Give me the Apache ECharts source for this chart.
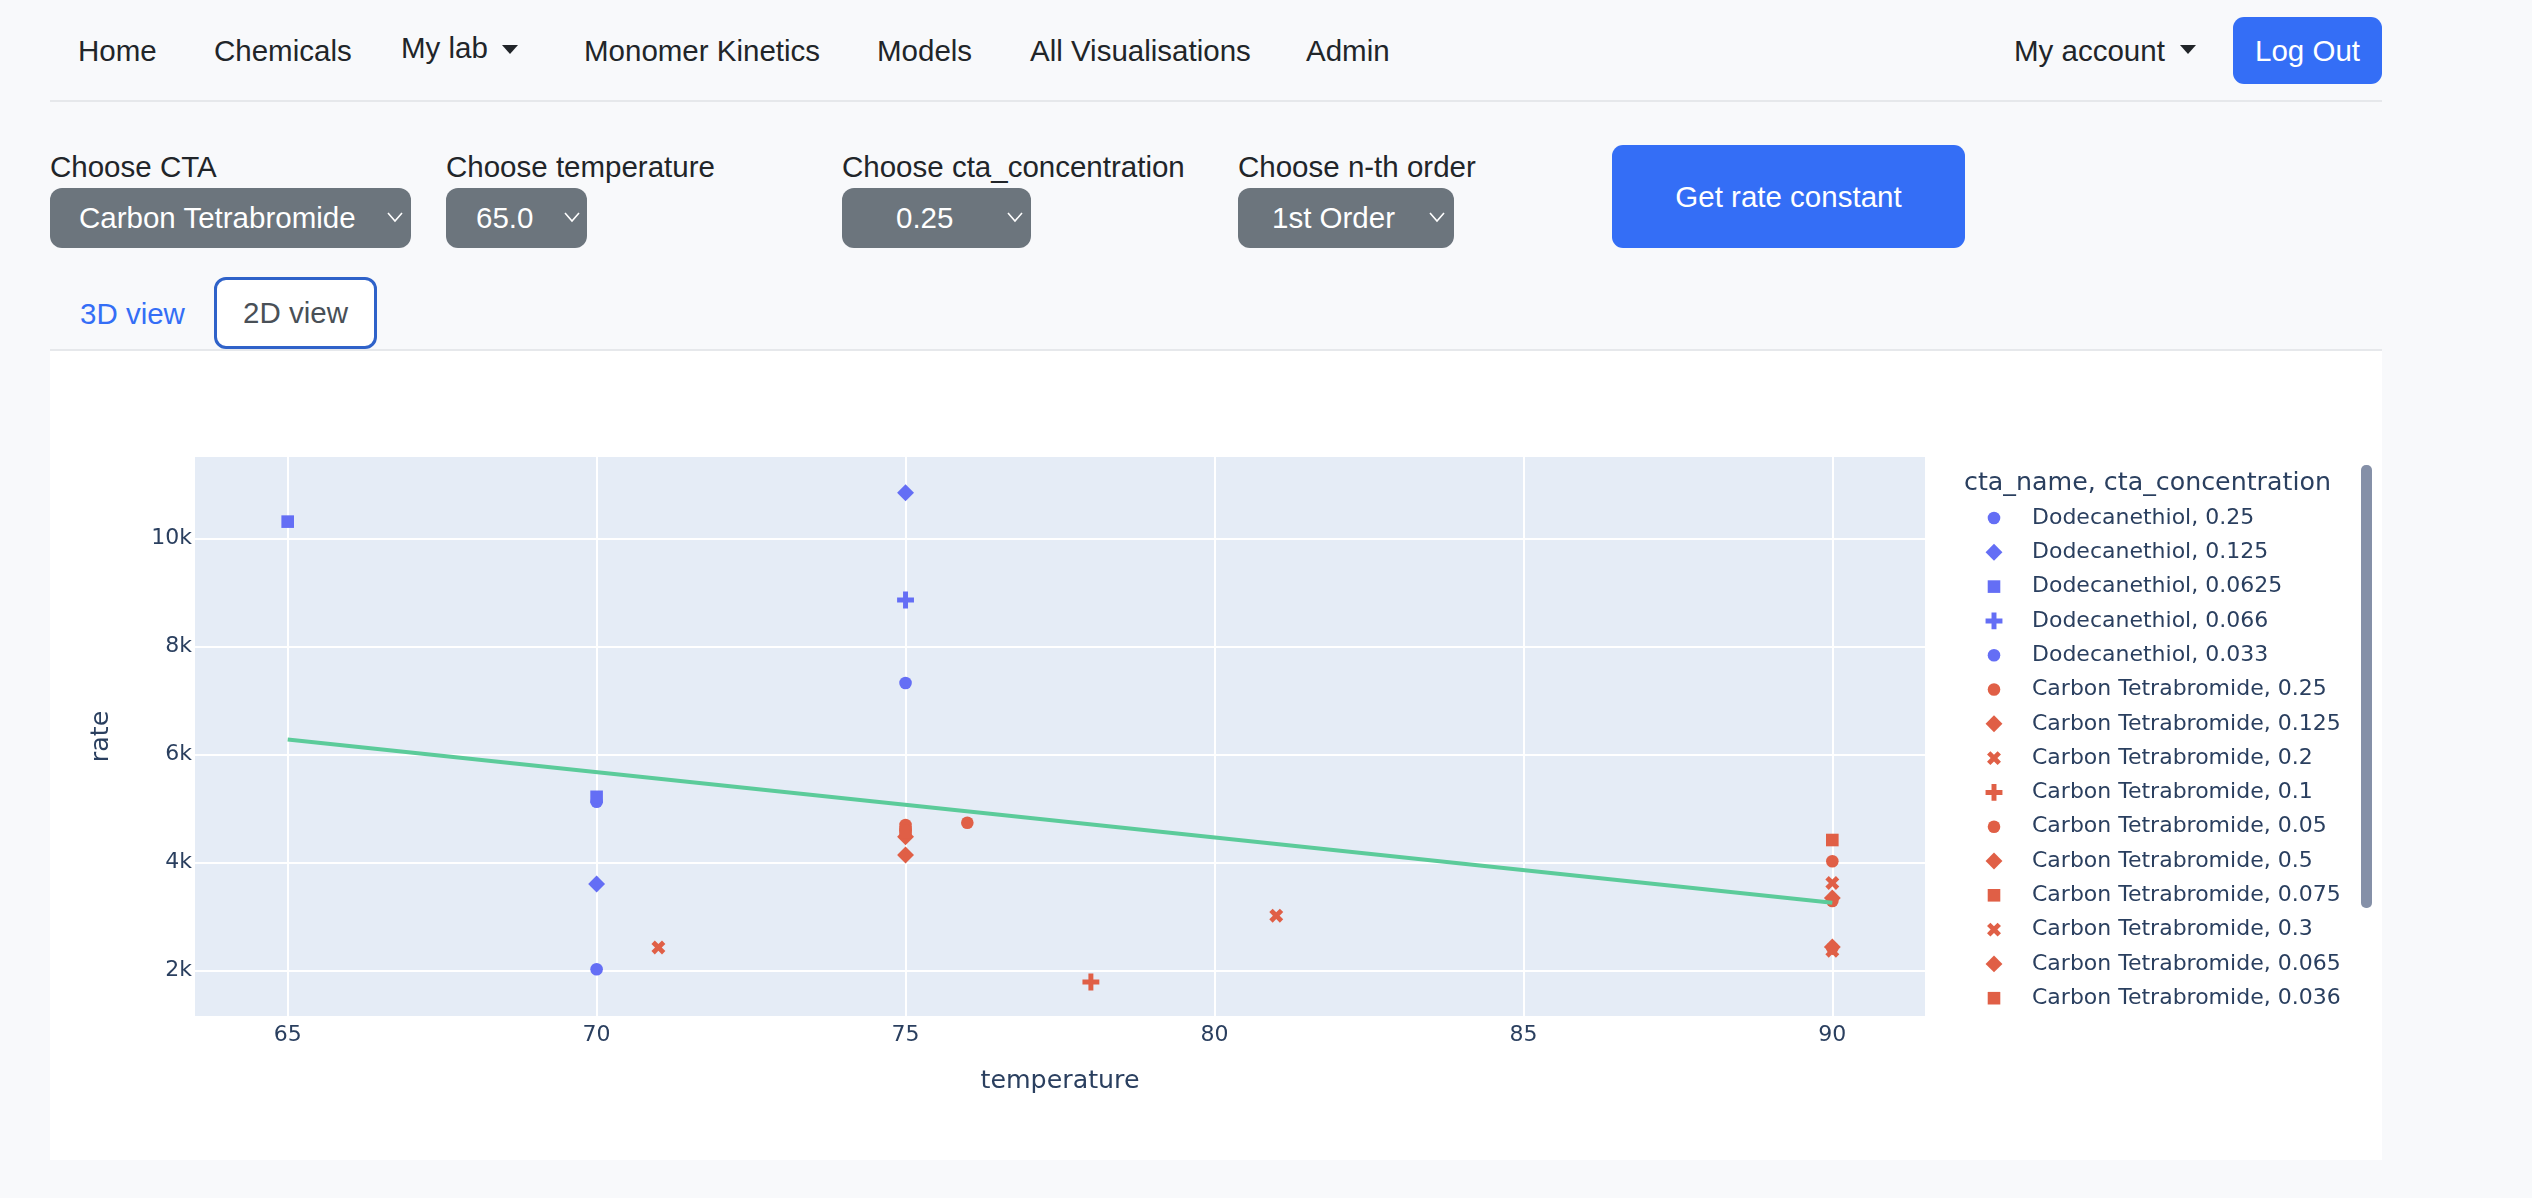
<!DOCTYPE html>
<html>
<head>
<meta charset="utf-8">
<title>Monomer Kinetics</title>
<script src="https://cdn.jsdelivr.net/npm/echarts@6/dist/echarts.min.js"></script>
<style>
    html, body { margin: 0; padding: 0; width: 2532px; height: 1198px; overflow: hidden; background: #f8f9fb; }
    body { position: relative; font-family: "Liberation Sans", sans-serif; font-size: 29.5px; color: #212529; }
    .t { position: absolute; white-space: nowrap; line-height: 34px; height: 34px; }
    .line { position: absolute; left: 50px; width: 2332px; height: 2px; background: #e6e8eb; }
    .caret { position: absolute; width: 0; height: 0; border-left: 8px solid transparent; border-right: 8px solid transparent; border-top: 9px solid #212529; }
    .btn { position: absolute; background: #346ef6; color: #fff; border-radius: 11px; display: flex; align-items: center; justify-content: center; }
    .sel { position: absolute; top: 188px; height: 60px; background: #6c757d; color: #fff; border-radius: 12px; line-height: 60px; }
    .sel span { position: absolute; white-space: nowrap; }
    .sel svg { position: absolute; top: 24px; }
    #tab2 { position: absolute; left: 214px; top: 277px; width: 157px; height: 66px; border: 3px solid #2f62c9; border-radius: 12px; background: #fff; color: #495057; text-align: center; line-height: 66px; }
    #panel { position: absolute; left: 50px; top: 351px; width: 2332px; height: 809px; background: #fff; }
    #chart { width: 100%; height: 100%; }
    #legendbar { position: absolute; left: 2311px; top: 114px; width: 11px; height: 443px; border-radius: 5px; background: #8590a8; }
</style>
</head>
<body>
<div class="t" style="left:78px;top:34px">Home</div>
<div class="t" style="left:214px;top:34px">Chemicals</div>
<div class="t" style="left:401px;top:31px">My lab</div>
<div class="caret" style="left:502px;top:45px"></div>
<div class="t" style="left:584px;top:34px">Monomer Kinetics</div>
<div class="t" style="left:877px;top:34px">Models</div>
<div class="t" style="left:1030px;top:34px">All Visualisations</div>
<div class="t" style="left:1306px;top:34px">Admin</div>
<div class="t" style="left:2014px;top:34px">My account</div>
<div class="caret" style="left:2180px;top:45px"></div>
<div class="btn" style="left:2233px;top:17px;width:149px;height:67px">Log Out</div>
<div class="line" style="top:100px"></div>

<div class="t" style="left:50px;top:150px">Choose CTA</div>
<div class="t" style="left:446px;top:150px">Choose temperature</div>
<div class="t" style="left:842px;top:150px">Choose cta_concentration</div>
<div class="t" style="left:1238px;top:150px">Choose n-th order</div>

<div class="sel" style="left:50px;width:361px"><span style="left:29px">Carbon Tetrabromide</span><svg style="left:337px" width="16" height="11"><path d="M1 1L8 9L15 1" fill="none" stroke="#fff" stroke-width="1.6"/></svg></div>
<div class="sel" style="left:446px;width:141px"><span style="left:30px">65.0</span><svg style="left:118px" width="16" height="11"><path d="M1 1L8 9L15 1" fill="none" stroke="#fff" stroke-width="1.6"/></svg></div>
<div class="sel" style="left:842px;width:189px"><span style="left:54px">0.25</span><svg style="left:165px" width="16" height="11"><path d="M1 1L8 9L15 1" fill="none" stroke="#fff" stroke-width="1.6"/></svg></div>
<div class="sel" style="left:1238px;width:216px"><span style="left:34px">1st Order</span><svg style="left:191px" width="16" height="11"><path d="M1 1L8 9L15 1" fill="none" stroke="#fff" stroke-width="1.6"/></svg></div>

<div class="btn" style="left:1612px;top:145px;width:353px;height:103px">Get rate constant</div>

<div class="t" style="left:80px;top:297px;color:#346ef6">3D view</div>
<div class="line" style="top:349px"></div>
<div id="tab2">2D view</div>

<div id="panel">
    <div id="chart"></div>
    <div id="legendbar"></div>
</div>

<script>
const legendTitle = "cta_name, cta_concentration";
const xTicks = [65, 70, 75, 80, 85, 90];
const yTicks = [2000, 4000, 6000, 8000, 10000];

const seriesNames = [
    "Dodecanethiol, 0.25", "Dodecanethiol, 0.125", "Dodecanethiol, 0.0625", "Dodecanethiol, 0.066", "Dodecanethiol, 0.033",
    "Carbon Tetrabromide, 0.25", "Carbon Tetrabromide, 0.125", "Carbon Tetrabromide, 0.2", "Carbon Tetrabromide, 0.1",
    "Carbon Tetrabromide, 0.05", "Carbon Tetrabromide, 0.5", "Carbon Tetrabromide, 0.075", "Carbon Tetrabromide, 0.3",
    "Carbon Tetrabromide, 0.065", "Carbon Tetrabromide, 0.036"
];
const seriesPoints = [
    [[70, 5130], [75, 7327]],
    [[70, 3605], [75, 10850]],
    [[65, 10316], [70, 5220]],
    [[75, 8865]],
    [[70, 2026]],
    [[75, 4698], [76, 4740], [90, 4026]],
    [[75, 4143], [90, 3346]],
    [[71, 2430], [90, 3624]],
    [[78, 1790]],
    [[75, 4600], [90, 3290], [90, 2420]],
    [[75, 4481]],
    [[90, 4420]],
    [[81, 3018], [90, 2370]],
    [[90, 2440]],
    [[75, 4560]]
];
const trendPoints = [[65, 6280], [90, 3260]];

// all icons share one 16x16 box (the two M's) so scatter and legend keep relative sizes
const box = "M0 0M16 16";
const shapes = {
    circle: "path://" + box + "M2.4 8A5.6 5.6 0 1 1 13.6 8A5.6 5.6 0 1 1 2.4 8Z",
    diamond: "path://" + box + "M8 0.5L15.5 8L8 15.5L0.5 8Z",
    square: "path://" + box + "M2.4 2.4L13.6 2.4L13.6 13.6L2.4 13.6Z",
    plus: "path://" + box + "M5.8 0.5L10.2 0.5L10.2 5.8L15.5 5.8L15.5 10.2L10.2 10.2L10.2 15.5L5.8 15.5L5.8 10.2L0.5 10.2L0.5 5.8L5.8 5.8Z",
    cross: "path://" + box + "M4.8 1.8L8 5L11.2 1.8L14.2 4.8L11 8L14.2 11.2L11.2 14.2L8 11L4.8 14.2L1.8 11.2L5 8L1.8 4.8Z"
};
const seriesShapes = ["circle", "diamond", "square", "plus", "circle", "circle", "diamond", "cross", "plus", "circle", "diamond", "square", "cross", "diamond", "square"];

const blue = "#646ef5";
const orange = "#e05f46";
const ink = "#2a3f5f";
const chartFont = "DejaVu Sans";

let chart = echarts.init(document.getElementById("chart"));

let scatterSeries = seriesNames.map((name, i) => ({
    name: name,
    type: "scatter",
    data: seriesPoints[i],
    symbol: shapes[seriesShapes[i]],
    symbolSize: 18,
    itemStyle: { color: name.startsWith("Dodecanethiol") ? blue : orange, opacity: 1 }
}));

chart.setOption({
    animation: false,
    backgroundColor: "#fff",
    textStyle: { fontFamily: chartFont, color: ink },
    title: {
        text: legendTitle,
        left: 1909,
        top: 115,
        textStyle: { fontFamily: chartFont, fontSize: 25.3, fontWeight: "normal", color: ink }
    },
    legend: {
        orient: "vertical",
        left: 1935,
        top: 156,
        padding: 0,
        itemWidth: 18,
        itemHeight: 18,
        itemGap: 12.3,
        selectedMode: false,
        data: seriesNames.map((name, i) => ({ name: name, icon: shapes[seriesShapes[i]] })),
        textStyle: { fontFamily: chartFont, fontSize: 22, color: ink, padding: [0, 0, 0, 24] }
    },
    grid: {
        show: true,
        left: 145,
        right: 457,
        top: 106,
        bottom: 144,
        backgroundColor: "#e5ecf6",
        borderWidth: 0
    },
    xAxis: {
        type: "value",
        min: 63.5,
        max: 91.5,
        name: "temperature",
        nameLocation: "middle",
        nameGap: 53,
        nameTextStyle: { fontSize: 25.3, color: ink },
        axisLine: { show: false },
        axisTick: { show: false, customValues: xTicks },
        axisLabel: { customValues: xTicks, fontSize: 22, color: ink, margin: 8 },
        splitLine: { show: true, lineStyle: { color: "#fff", width: 2 } }
    },
    yAxis: {
        type: "value",
        min: 1161,
        max: 11513,
        name: "rate",
        nameLocation: "middle",
        nameGap: 81,
        nameTextStyle: { fontSize: 25.3, color: ink },
        axisLine: { show: false },
        axisTick: { show: false, customValues: yTicks },
        axisLabel: { customValues: yTicks, fontSize: 22, color: ink, margin: 3, formatter: v => (v / 1000) + "k" },
        splitLine: { show: true, lineStyle: { color: "#fff", width: 2 } }
    },
    series: scatterSeries.concat([{
        name: "trend",
        type: "line",
        data: trendPoints,
        showSymbol: false,
        lineStyle: { color: "#5bcb9a", width: 4 },
        z: 5
    }])
});
</script>
</body>
</html>
